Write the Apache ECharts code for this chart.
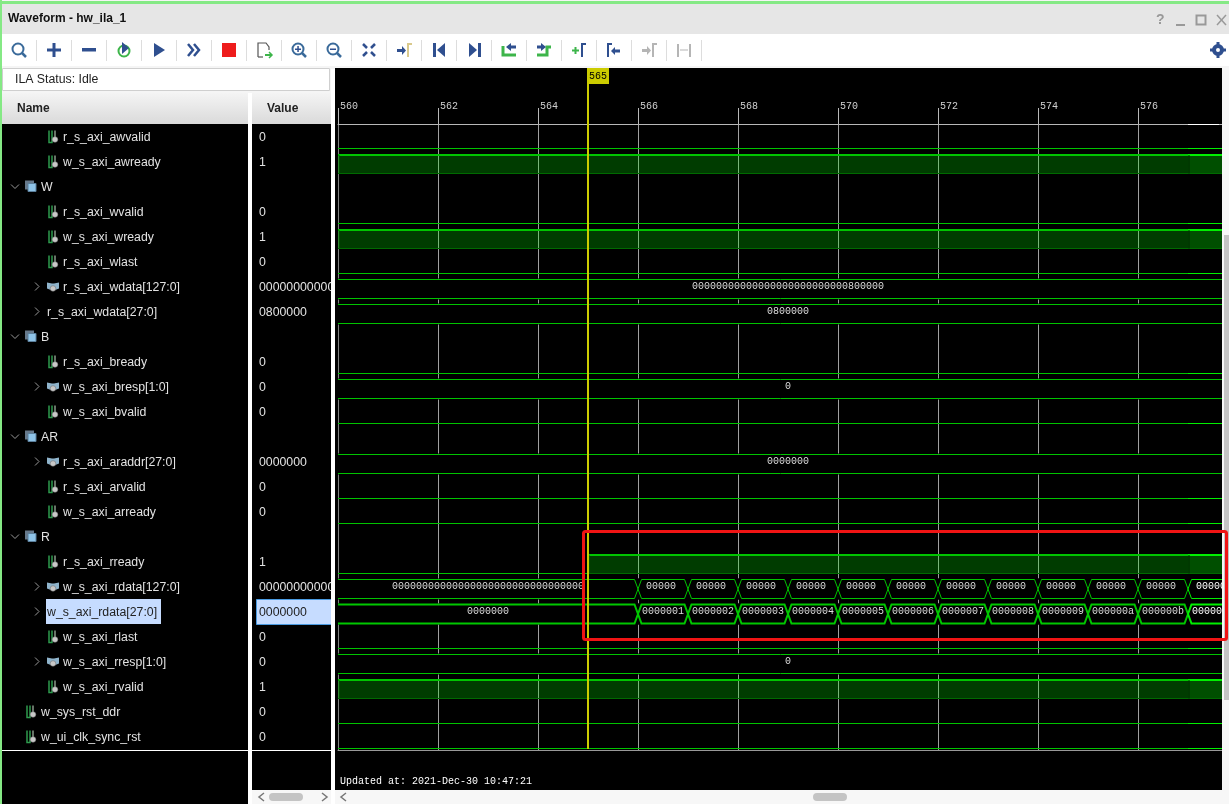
<!DOCTYPE html>
<html>
<head>
<meta charset="utf-8">
<title>Waveform - hw_ila_1</title>
<script src="https://cdn.jsdelivr.net/npm/echarts@6/dist/echarts.min.js"></script>
<style>
  html, body { margin: 0; padding: 0; background: #f5f5f5; }
  #chart { width: 1229px; height: 804px; }
</style>
</head>
<body>
<div id="chart"></div>
<script>
// signal list, top to bottom
var rowNames = ['r_s_axi_awvalid', 'w_s_axi_awready', 'W', 'r_s_axi_wvalid', 'w_s_axi_wready', 'r_s_axi_wlast',
  'r_s_axi_wdata[127:0]', 'r_s_axi_wdata[27:0]', 'B', 'r_s_axi_bready', 'w_s_axi_bresp[1:0]', 'w_s_axi_bvalid',
  'AR', 'r_s_axi_araddr[27:0]', 'r_s_axi_arvalid', 'w_s_axi_arready', 'R', 'r_s_axi_rready',
  'w_s_axi_rdata[127:0]', 'w_s_axi_rdata[27:0]', 'w_s_axi_rlast', 'w_s_axi_rresp[1:0]', 'w_s_axi_rvalid',
  'w_sys_rst_ddr', 'w_ui_clk_sync_rst'];
var rowValues = ['0', '1', '', '0', '1', '0', '00000000000000', '0800000', '', '0', '0', '0',
  '', '0000000', '0', '0', '', '1', '00000000000000', '0000000', '0', '0', '1', '0', '0'];
var rowKinds = ['bit', 'bit', 'group', 'bit', 'bit', 'bit', 'bus', 'plain', 'group', 'bit', 'bus', 'bit',
  'group', 'bus', 'bit', 'bit', 'group', 'bit', 'bus', 'plain', 'bit', 'bus', 'bit', 'top', 'top'];
var selectedRow = 19;

// one bit signals
var bitRows = [0, 1, 3, 4, 5, 9, 11, 14, 15, 17, 20, 22, 23, 24];
var bitStart = [0, 1, 0, 1, 0, 0, 0, 0, 0, 0, 0, 1, 0, 0];
var bitRiseAt = [null, null, null, null, null, null, null, null, null, 565, null, null, null, null];

// bus signals
var busRows = [6, 7, 10, 13, 18, 19, 21];
var wholeRange = [560, 578];
var rdataTimes = [560, 566, 567, 568, 569, 570, 571, 572, 573, 574, 575, 576, 577, 578];
var rdata127Labels = ['00000000000000000000000000000000', '00000', '00000', '00000', '00000', '00000', '00000',
  '00000', '00000', '00000', '00000', '00000', '00000'];
var rdata27Labels = ['0000000', '0000001', '0000002', '0000003', '0000004', '0000005', '0000006', '0000007',
  '0000008', '0000009', '000000a', '000000b', '000000c'];
var busTimes = [wholeRange, wholeRange, wholeRange, wholeRange, rdataTimes, rdataTimes, wholeRange];
var busLabels = [['00000000000000000000000000800000'], ['0800000'], ['0'], ['0000000'], rdata127Labels, rdata27Labels, ['0']];

var xTicks = [560, 562, 564, 566, 568, 570, 572, 574, 576];
var xMin = 560;
var xMax = 577.68;
var cursorAt = 565;
var brightFrom = 577;

var MONO = '10px "Liberation Mono"';
var UI = '12.3px "Liberation Sans"';
var HEAD = 'bold 12px "Liberation Sans"';
var HIGH = 0.24, LOW = 0.98, BUS_TOP = 0.22;

// pieces of the 1 bit waves, cut at the cursor edge and at the last sample
var bitPieces = [];
bitRows.forEach(function (row, i) {
  var rise = bitRiseAt[i];
  var stops = rise === null ? [xMin, brightFrom, wholeRange[1]] : [xMin, rise, brightFrom, wholeRange[1]];
  for (var k = 0; k < stops.length - 1; k++) {
    var level = rise === null ? bitStart[i] : (stops[k] >= rise ? 1 : 0);
    bitPieces.push({ row: row, t0: stops[k], t1: stops[k + 1], level: level, bright: stops[k] >= brightFrom });
  }
});

var busPieces = [];
busRows.forEach(function (row, i) {
  busLabels[i].forEach(function (label, k) {
    busPieces.push({ row: row, t0: busTimes[i][k], t1: busTimes[i][k + 1], label: label, bright: busTimes[i][k] >= brightFrom });
  });
});

function snap(v) { return Math.floor(v) + 0.5; }

function renderBit(params, api) {
  var p = bitPieces[params.dataIndex];
  var a = api.coord([p.t0, p.row + (p.level ? HIGH : LOW)]);
  var b = api.coord([p.t1, p.row + LOW]);
  var lineColor = p.bright ? '#00f000' : '#00c400';
  if (!p.level) {
    var y = snap(a[1]);
    return { type: 'line', shape: { x1: a[0], y1: y, x2: b[0], y2: y }, style: { stroke: lineColor, lineWidth: 1 } };
  }
  var top = Math.round(a[1]), bottom = snap(b[1]);
  return {
    type: 'group',
    children: [
      { type: 'rect', shape: { x: a[0], y: top, width: b[0] - a[0], height: bottom - top },
        style: { fill: p.bright ? 'rgba(0,255,0,0.31)' : 'rgba(0,255,0,0.235)' } },
      { type: 'line', shape: { x1: a[0], y1: top, x2: b[0], y2: top }, style: { stroke: lineColor, lineWidth: 2 } },
      { type: 'line', shape: { x1: a[0], y1: bottom, x2: b[0], y2: bottom }, style: { stroke: '#006a00', lineWidth: 1 } },
      { type: 'line', shape: { x1: a[0] + 1, y1: top, x2: a[0] + 1, y2: bottom },
        style: { stroke: p.bright ? '#002400' : '#006a00', lineWidth: 1 } }
    ]
  };
}

// black strip behind a bus, it hides the grid lines
function renderBusBack(params, api) {
  var p = busPieces[params.dataIndex];
  var a = api.coord([p.t0, p.row + BUS_TOP]);
  var b = api.coord([p.t1, p.row + LOW]);
  return { type: 'rect', shape: { x: a[0] - 1, y: snap(a[1]) - 1, width: b[0] - a[0] + 2, height: snap(b[1]) - snap(a[1]) + 2 }, style: { fill: '#000' } };
}

function renderBus(params, api) {
  var p = busPieces[params.dataIndex];
  var a = api.coord([p.t0, p.row + BUS_TOP]);
  var b = api.coord([p.t1, p.row + LOW]);
  var top = snap(a[1]), bottom = snap(b[1]), mid = (top + bottom) / 2;
  var selected = p.row === selectedRow;
  var slope = 3.5;
  var left = p.t0 === xMin ? a[0] : a[0] + slope;
  var right = b[0] - slope;
  var upper = p.t0 === xMin ? [[left, top], [right, top], [b[0], mid]] : [[a[0], mid], [left, top], [right, top], [b[0], mid]];
  var lower = p.t0 === xMin ? [[left, bottom], [right, bottom], [b[0], mid]] : [[a[0], mid], [left, bottom], [right, bottom], [b[0], mid]];
  var width = b[0] - a[0];
  var shortCut = p.label.length < 7 && width < 60;
  var stroke = p.bright ? '#00f000' : (selected ? '#00c800' : '#00c400');
  return {
    type: 'group',
    children: [
      { type: 'polyline', shape: { points: upper }, style: { stroke: stroke, fill: null, lineWidth: selected ? 2 : 1 } },
      { type: 'polyline', shape: { points: lower }, style: { stroke: stroke, fill: null, lineWidth: selected ? 2 : 1 } },
      { type: 'text', style: {
        x: shortCut ? a[0] + 8 : (a[0] + b[0]) / 2, y: mid - 2.5,
        text: p.label, font: MONO, fill: p.bright ? '#fff' : '#dcdcdc',
        textAlign: shortCut ? 'left' : 'center', textVerticalAlign: 'middle' } }
    ]
  };
}

function renderCursor(params, api) {
  var top = api.coord([cursorAt, 0]);
  var bottom = api.coord([cursorAt, 25]);
  var lastSample = api.coord([brightFrom, 0]);
  var axisEnd = api.coord([xMax, 0]);
  return {
    type: 'group',
    children: [
      { type: 'line', shape: { x1: lastSample[0], y1: snap(lastSample[1]), x2: axisEnd[0] - 3, y2: snap(lastSample[1]) }, style: { stroke: '#ffffff', lineWidth: 1 } },
      { type: 'line', shape: { x1: top[0], y1: top[1] - 42, x2: top[0], y2: bottom[1] }, style: { stroke: '#cccc00', lineWidth: 2 } },
      { type: 'rect', shape: { x: top[0] - 1, y: top[1] - 56, width: 22, height: 16 }, style: { fill: '#cccc00' } },
      { type: 'text', style: { x: top[0] + 10, y: top[1] - 48, text: String(cursorAt), font: MONO, fill: '#000', textAlign: 'center', textVerticalAlign: 'middle' } }
    ]
  };
}

function bitIcon(x, y) {
  return [
    { type: 'polyline', shape: { points: [[x + 1, y - 6], [x + 1, y + 6], [x + 4, y + 6], [x + 4, y - 6]] }, style: { stroke: '#2e9b4e', fill: null, lineWidth: 1.5 } },
    { type: 'line', shape: { x1: x + 7, y1: y - 6, x2: x + 7, y2: y + 1 }, style: { stroke: '#8a9a8a', lineWidth: 1.5 } },
    { type: 'circle', shape: { cx: x + 7, cy: y + 3, r: 2.8 }, style: { fill: '#c8c8c8', stroke: '#777', lineWidth: 0.5 } }
  ];
}

function busIcon(x, y) {
  return [
    { type: 'polygon', shape: { points: [[x, y - 4], [x + 5, y - 3], [x + 7, y - 3], [x + 12, y - 4], [x + 12, y + 2], [x + 7, y + 4], [x + 5, y + 4], [x, y + 2]] }, style: { fill: '#8fb4cc' } },
    { type: 'circle', shape: { cx: x + 6, cy: y + 2, r: 2.8 }, style: { fill: '#c8c8c8', stroke: '#666', lineWidth: 0.5 } }
  ];
}

function groupIcon(x, y) {
  return [
    { type: 'rect', shape: { x: x, y: y - 6, width: 9, height: 9 }, style: { fill: '#66788a' } },
    { type: 'rect', shape: { x: x + 3, y: y - 3, width: 8, height: 8 }, style: { fill: '#8fc4e8', stroke: '#5b7f9b', lineWidth: 1 } }
  ];
}

function arrowRight(x, y) { return { type: 'polyline', shape: { points: [[x, y - 4], [x + 4, y], [x, y + 4]] }, style: { stroke: '#999', fill: null, lineWidth: 1 } }; }
function arrowDown(x, y) { return { type: 'polyline', shape: { points: [[x - 4, y - 2], [x, y + 2], [x + 4, y - 2]] }, style: { stroke: '#999', fill: null, lineWidth: 1 } }; }

function renderName(params, api) {
  var r = params.dataIndex;
  var y = api.coord([xMin, r + 0.5])[1];
  var kind = rowKinds[r];
  var name = rowNames[r];
  var kids = [];
  var textX = 63;
  var nameColor = '#e2e2e2';
  if (kind === 'bit') kids = bitIcon(48, y);
  if (kind === 'top') { kids = bitIcon(26, y); textX = 41; }
  if (kind === 'group') { kids = [arrowDown(15, y)].concat(groupIcon(25, y)); textX = 41; }
  if (kind === 'bus') kids = [arrowRight(35, y)].concat(busIcon(47, y));
  if (kind === 'plain') { kids = [arrowRight(35, y)]; textX = 47; }
  if (r === selectedRow) {
    kids.push({ type: 'rect', shape: { x: 46, y: y - 12.5, width: 115, height: 25 }, style: { fill: '#c6dcff' } });
    kids.push({ type: 'rect', shape: { x: 256.5, y: y - 12, width: 76, height: 25 }, style: { fill: '#c6dcff', stroke: '#4a9ae0', lineWidth: 1 } });
    nameColor = '#222';
  }
  kids.push({ type: 'text', style: { x: textX, y: y + 1, text: name, font: UI, fill: nameColor, textVerticalAlign: 'middle' } });
  kids.push({
    type: 'group',
    clipPath: { type: 'rect', shape: { x: 252, y: y - 12, width: 79, height: 25 } },
    children: [{ type: 'text', style: { x: 259, y: y + 1, text: rowValues[r], font: UI, fill: r === selectedRow ? '#222' : '#e2e2e2', textVerticalAlign: 'middle' } }]
  });
  return { type: 'group', children: kids };
}

// window chrome
function box(x, y, w, h, fill, z, r) { return { type: 'rect', shape: { x: x, y: y, width: w, height: h, r: r || 0 }, style: { fill: fill }, z: z === undefined ? -5 : z }; }
function poly(pts, fill) { return { type: 'polygon', shape: { points: pts }, style: { fill: fill }, z: 3 }; }
function strk(pts, color, w) { return { type: 'polyline', shape: { points: pts }, style: { stroke: color, fill: null, lineWidth: w || 2 }, z: 3 }; }
function ring(x, y, r, color, w) { return { type: 'circle', shape: { cx: x, cy: y, r: r }, style: { stroke: color, fill: null, lineWidth: w || 2 }, z: 3 }; }
function label(x, y, text, font, fill, z) { return { type: 'text', x: x, y: y, style: { text: text, font: font, fill: fill, verticalAlign: 'middle' }, z: z === undefined ? 3 : z }; }

var headerFill = { type: 'linear', x: 0, y: 0, x2: 0, y2: 1, colorStops: [{ offset: 0, color: '#f4f4f4' }, { offset: 1, color: '#dadada' }] };
var NAVY = '#2f4f8f', LEAF = '#3db54a', TAN = '#d9c98c', DIM = '#b5b5b5';
var elements = [
  box(0, 0, 1229, 804, '#f5f5f5', -9),
  box(0, 1, 1229, 3, '#85e985', -5),
  box(0, 0, 2, 804, '#85e985', -5),
  box(2, 4, 1227, 30, '#e6e6e6', -5),
  box(2, 34, 1227, 32, '#ffffff', -5),
  box(2, 68, 328, 23, '#ffffff', -5),
  { type: 'rect', shape: { x: 2.5, y: 68.5, width: 327, height: 22 }, style: { fill: null, stroke: '#cfcfcf' }, z: -4 },
  box(2, 93, 246, 31, headerFill, -5),
  box(252, 93, 79, 31, headerFill, -5),
  box(2, 124, 246, 680, '#000000', -5),
  box(252, 124, 79, 666, '#000000', -5),
  box(248, 93, 4, 711, '#ffffff', 10),
  box(331, 69, 4, 735, '#ffffff', 10),
  box(335, 68, 887, 722, '#000000', -5),
  box(2, 750, 246, 1, '#ffffff', 1),
  box(252, 750, 79, 1, '#ffffff', 1),
  box(252, 790, 79, 14, '#f7f7f7', 1),
  box(335, 790, 894, 14, '#f7f7f7', 1),
  box(1222, 68, 7, 736, '#f7f7f7', 1),
  box(1224, 235, 5, 465, '#c4c4c4', 2),
  box(813, 793, 34, 8, '#c4c4c4', 2, 4),
  box(269, 793, 34, 8, '#c4c4c4', 2, 4),
  strk([[264, 793], [259, 797], [264, 801]], '#777', 1.5),
  strk([[322, 793], [327, 797], [322, 801]], '#777', 1.5),
  strk([[346, 793], [341, 797], [346, 801]], '#777', 1.5),
  label(8, 19, 'Waveform - hw_ila_1', HEAD, '#111'),
  label(15, 80, 'ILA Status: Idle', UI, '#222'),
  label(17, 109, 'Name', HEAD, '#222'),
  label(267, 109, 'Value', HEAD, '#222'),
  label(340, 781, 'Updated at: 2021-Dec-30 10:47:21', MONO, '#ffffff'),
  label(1156, 20, '?', 'bold 14px "Liberation Sans"', '#999'),
  box(1176, 24, 9, 2, '#999', 3),
  { type: 'rect', shape: { x: 1196.5, y: 15.5, width: 9, height: 9 }, style: { fill: null, stroke: '#999', lineWidth: 2 }, z: 3 },
  strk([[1217, 15], [1226, 25]], '#999', 1.5),
  strk([[1226, 15], [1217, 25]], '#999', 1.5)
];

// toolbar separators
for (var s = 0; s < 20; s++) elements.push(box(36 + 35 * s, 40, 1, 21, '#dddddd', 1));

function iconX(k) { return 19 + 35 * k; }
var cy = 50;
function plusAt(x, w) { return [box(x - w, cy - 1.5, w * 2, 3, NAVY, 3), box(x - 1.5, cy - w, 3, w * 2, NAVY, 3)]; }
elements = elements.concat(
  [ring(iconX(0) - 1, cy - 1, 5.5, '#3a6a9a'), strk([[iconX(0) + 3, cy + 3], [iconX(0) + 7, cy + 7]], '#3a6a9a', 2.5)],
  plusAt(iconX(1), 7),
  [box(iconX(2) - 7, cy - 2, 14, 3.5, NAVY, 3)],
  [ring(iconX(3), cy + 1, 5.5, LEAF), poly([[iconX(3) - 2, cy - 8], [iconX(3) + 5, cy - 2], [iconX(3) - 2, cy + 4]], NAVY)],
  [poly([[iconX(4) - 5, cy - 7], [iconX(4) + 6, cy], [iconX(4) - 5, cy + 7]], NAVY)],
  [strk([[iconX(5) - 6, cy - 6], [iconX(5) - 1, cy], [iconX(5) - 6, cy + 6]], NAVY, 2.5), strk([[iconX(5) + 0, cy - 6], [iconX(5) + 5, cy], [iconX(5), cy + 6]], NAVY, 2.5)],
  [box(iconX(6) - 7, cy - 7, 14, 14, '#ee1c1c', 3)],
  [strk([[iconX(7) - 6, cy + 7], [iconX(7) - 6, cy - 7], [iconX(7) + 2, cy - 7], [iconX(7) + 5, cy - 3], [iconX(7) + 5, cy]], '#555', 1.2),
    strk([[iconX(7) + 1, cy + 5], [iconX(7) + 8, cy + 5]], LEAF, 2), strk([[iconX(7) + 5, cy + 2], [iconX(7) + 8, cy + 5], [iconX(7) + 5, cy + 8]], LEAF, 1.5),
    strk([[iconX(7) - 6, cy + 7], [iconX(7) - 1, cy + 7]], '#555', 1.2)],
  [ring(iconX(8) - 1, cy - 1, 5.5, '#3a6a9a'), strk([[iconX(8) + 3, cy + 3], [iconX(8) + 7, cy + 7]], '#3a6a9a', 2.5), box(iconX(8) - 4, cy - 1.5, 6, 1.5, NAVY, 3), box(iconX(8) - 1.7, cy - 4, 1.5, 6, NAVY, 3)],
  [ring(iconX(9) - 1, cy - 1, 5.5, '#3a6a9a'), strk([[iconX(9) + 3, cy + 3], [iconX(9) + 7, cy + 7]], '#3a6a9a', 2.5), box(iconX(9) - 4, cy - 1.5, 6, 1.5, NAVY, 3)],
  [strk([[iconX(10) - 6, cy - 6], [iconX(10) - 2, cy - 2]], NAVY, 2.5), strk([[iconX(10) + 6, cy - 6], [iconX(10) + 2, cy - 2]], NAVY, 2.5),
    strk([[iconX(10) - 6, cy + 6], [iconX(10) - 2, cy + 2]], NAVY, 2.5), strk([[iconX(10) + 6, cy + 6], [iconX(10) + 2, cy + 2]], NAVY, 2.5)],
  [box(iconX(11) - 7, cy - 1, 5, 3, NAVY, 3), poly([[iconX(11) - 2, cy - 4], [iconX(11) + 2, cy + 0.5], [iconX(11) - 2, cy + 5]], NAVY), strk([[iconX(11) + 4, cy + 7], [iconX(11) + 4, cy - 6], [iconX(11) + 8, cy - 6]], TAN, 2)],
  [box(iconX(12) - 6, cy - 7, 3, 14, NAVY, 3), poly([[iconX(12) + 6, cy - 7], [iconX(12) - 2, cy], [iconX(12) + 6, cy + 7]], NAVY)],
  [box(iconX(13) + 4, cy - 7, 3, 14, NAVY, 3), poly([[iconX(13) - 5, cy - 7], [iconX(13) + 3, cy], [iconX(13) - 5, cy + 7]], NAVY)],
  [strk([[iconX(14) - 6, cy - 4], [iconX(14) - 6, cy + 5], [iconX(14) + 7, cy + 5]], LEAF, 3), poly([[iconX(14) - 3, cy - 3], [iconX(14) + 2, cy - 7], [iconX(14) + 2, cy + 1]], NAVY), box(iconX(14) + 2, cy - 4.5, 5, 3, NAVY, 3)],
  [strk([[iconX(15) - 7, cy + 5], [iconX(15) + 3, cy + 5], [iconX(15) + 3, cy - 3], [iconX(15) + 7, cy - 3]], LEAF, 3), box(iconX(15) - 7, cy - 4.5, 4, 3, NAVY, 3), poly([[iconX(15) - 3, cy - 7], [iconX(15) + 2, cy - 3], [iconX(15) - 3, cy + 1]], NAVY)],
  [box(iconX(16) - 7, cy - 0.5, 7, 2, LEAF, 3), box(iconX(16) - 4.5, cy - 3, 2, 7, LEAF, 3), strk([[iconX(16) + 3, cy + 7], [iconX(16) + 3, cy - 6], [iconX(16) + 7, cy - 6]], NAVY, 2)],
  [strk([[iconX(17) - 6, cy + 7], [iconX(17) - 6, cy - 6], [iconX(17) - 2, cy - 6]], NAVY, 2), box(iconX(17), cy - 0.5, 6, 3, NAVY, 3), poly([[iconX(17) + 1, cy - 3], [iconX(17) - 3, cy + 1], [iconX(17) + 1, cy + 5]], NAVY)],
  [box(iconX(18) - 7, cy - 1, 5, 3, DIM, 3), poly([[iconX(18) - 2, cy - 4], [iconX(18) + 2, cy + 0.5], [iconX(18) - 2, cy + 5]], DIM), strk([[iconX(18) + 4, cy + 7], [iconX(18) + 4, cy - 6], [iconX(18) + 8, cy - 6]], DIM, 2)],
  [box(iconX(19) - 7, cy - 6, 2, 13, DIM, 3), box(iconX(19) + 5, cy - 6, 2, 13, DIM, 3), strk([[iconX(19) - 4, cy], [iconX(19) + 4, cy]], DIM, 1)],
  [ring(1218, cy, 4, '#2f4f8f', 4),
    box(1216.5, cy - 8, 3, 3, '#2f4f8f', 3), box(1216.5, cy + 5, 3, 3, '#2f4f8f', 3), box(1210, cy - 1.5, 3, 3, '#2f4f8f', 3), box(1223, cy - 1.5, 3, 3, '#2f4f8f', 3)]
);

// the red box somebody drew over the screenshot
elements.push({ type: 'rect', shape: { x: 583.5, y: 531.5, width: 643, height: 108, r: 2 }, style: { fill: null, stroke: '#f01414', lineWidth: 3 }, z: 20 });

var chart = echarts.init(document.getElementById('chart'), null, { width: 1229, height: 804 });
var option = {
  animation: false,
  backgroundColor: '#f5f5f5',
  graphic: { elements: elements },
  grid: { left: 338, top: 124, right: 7, bottom: 54, containLabel: false },
  xAxis: [
    {
      type: 'value', position: 'top', min: xMin, max: xMax,
      axisLine: { onZero: false, lineStyle: { color: '#b8b8b8', width: 1 } },
      axisTick: { show: true, length: 16, customValues: xTicks, lineStyle: { color: '#b8b8b8' } },
      axisLabel: { customValues: xTicks, align: 'left', margin: 13, padding: [0, 0, 0, 2], color: '#d0d0d0', fontFamily: 'Liberation Mono', fontSize: 10 },
      splitLine: { show: true, lineStyle: { color: '#a0a0a0', width: 1 } }
    },
    {
      type: 'value', position: 'bottom', min: xMin, max: xMax,
      axisLine: { onZero: false, lineStyle: { color: '#999' } },
      axisTick: { show: false }, axisLabel: { show: false }, splitLine: { show: false }
    }
  ],
  yAxis: {
    type: 'value', inverse: true, min: 0, max: 25.04,
    axisLine: { show: true, onZero: false, lineStyle: { color: '#808080' } },
    axisTick: { show: false }, axisLabel: { show: false }, splitLine: { show: false }
  },
  series: [
    { type: 'custom', name: 'bits', clip: true, z: 2, renderItem: renderBit, encode: { x: 0, y: 1 },
      data: bitPieces.map(function (p) { return [p.t0, p.row]; }) },
    { type: 'custom', name: 'busBack', clip: true, z: 3, renderItem: renderBusBack, encode: { x: 0, y: 1 },
      data: busPieces.map(function (p) { return [p.t0, p.row]; }) },
    { type: 'custom', name: 'buses', clip: true, z: 4, renderItem: renderBus, encode: { x: 0, y: 1 },
      data: busPieces.map(function (p) { return [p.t0, p.row]; }) },
    { type: 'custom', name: 'cursor', clip: false, z: 5, renderItem: renderCursor, encode: { x: 0, y: 1 },
      data: [[cursorAt, 0]] },
    { type: 'custom', name: 'names', clip: false, z: 6, renderItem: renderName, encode: { x: 0, y: 1 },
      data: rowNames.map(function (n, i) { return [xMin, i]; }) }
  ]
};
chart.setOption(option);
</script>
</body>
</html>
